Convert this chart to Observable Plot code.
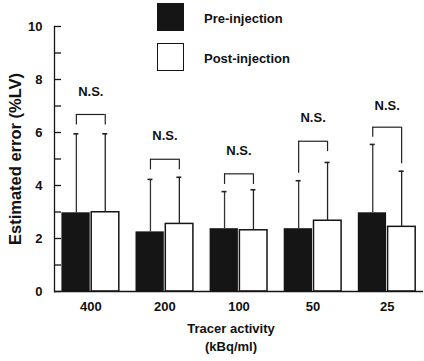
<!DOCTYPE html>
<html>
<head>
<meta charset="utf-8">
<script src="https://cdn.jsdelivr.net/npm/d3@7"></script>
<script src="https://cdn.jsdelivr.net/npm/@observablehq/plot@0.6"></script>
<style>
  html, body { margin: 0; padding: 0; background: #fff; }
  #wrap { position: relative; width: 424px; height: 361px; font-family: "Liberation Sans", Arial, sans-serif; font-weight: bold; }
  #wrap svg { display: block; }
  .sw { position: absolute; box-sizing: border-box; }
  .lt { position: absolute; font-size: 13px; line-height: 15px; color: #111; }
</style>
</head>
<body>
<div id="wrap"></div>
<script>
// ---- data ----
const categories = ["400", "200", "100", "50", "25"];
const seriesNames = ["Pre-injection", "Post-injection"];
const preMean  = [2.97, 2.25, 2.37, 2.37, 2.97];
const postMean = [2.99, 2.55, 2.31, 2.67, 2.44];
const preUpper  = [5.95, 4.23, 3.77, 4.18, 5.55];
const postUpper = [5.95, 4.31, 3.84, 4.87, 4.54];
const bracketTop = [6.68, 4.99, 4.44, 5.67, 6.20];
const bracketPreEnd  = [6.28, 4.59, 4.04, 4.46, 5.82];
const bracketPostEnd = [6.28, 4.59, 4.04, 5.28, 4.82];
const sigLabelY = [7.52, 5.89, 5.29, 6.55, 7.02];
const sigLabels = ["N.S.", "N.S.", "N.S.", "N.S.", "N.S."];
const yTickLabels = [0, 2, 4, 6, 8, 10];
const yTicksAll = [0, 1, 2, 3, 4, 5, 6, 7, 8, 9, 10];
const xLabel = "Tracer activity\n(kBq/ml)";
const yLabel = "Estimated error (%LV)";

// ---- layout ----
const W = 424, H = 361;
const mL = 54, mR = 1, mT = 26, mB = 70;
const padInner = 0.22, padOuter = 0.1;
const band = d3.scaleBand().domain(categories).range([mL, W - mR]).paddingInner(padInner).paddingOuter(padOuter);
const bw = band.bandwidth();
const q = bw / 4;
const capInset = (bw - 5) / 2;
const frameW = W - mL - mR;

const rows = categories.map((c, i) => ({
  cat: c, pre: preMean[i], post: postMean[i],
  preU: preUpper[i], postU: postUpper[i],
  top: bracketTop[i], preEnd: bracketPreEnd[i], postEnd: bracketPostEnd[i],
  labY: sigLabelY[i], lab: sigLabels[i]
}));

const font = "Liberation Sans, Arial, sans-serif";

const chart = Plot.plot({
  width: W, height: H,
  marginLeft: mL, marginRight: mR, marginTop: mT, marginBottom: mB,
  style: { fontFamily: font, fontWeight: "bold", fontSize: "13px", color: "#111", background: "white" },
  x: { domain: categories, paddingInner: padInner, paddingOuter: padOuter, round: false, label: null },
  y: { domain: [0, 10], label: null },
  marks: [
    // bars
    Plot.rectY(rows, { x: "cat", y1: 0, y2: "pre", fill: "#151515", insetRight: bw / 2 + 0.6 }),
    Plot.rectY(rows, { x: "cat", y1: 0, y2: "post", fill: "white", stroke: "#151515", strokeWidth: 1.5, insetLeft: bw / 2 + 0.9, insetRight: 0.4 }),
    // error whiskers
    Plot.ruleX(rows, { x: "cat", y1: "pre", y2: "preU", dx: -q, stroke: "#333", strokeWidth: 1.3 }),
    Plot.ruleX(rows, { x: "cat", y1: "post", y2: "postU", dx: q, stroke: "#222", strokeWidth: 1.3 }),
    Plot.tickY(rows, { x: "cat", y: "preU", dx: -q, insetLeft: capInset, insetRight: capInset, stroke: "#222", strokeWidth: 1.6 }),
    Plot.tickY(rows, { x: "cat", y: "postU", dx: q, insetLeft: capInset, insetRight: capInset, stroke: "#222", strokeWidth: 1.6 }),
    // significance brackets
    Plot.tickY(rows, { x: "cat", y: "top", insetLeft: q, insetRight: q, stroke: "#222", strokeWidth: 1.2 }),
    Plot.ruleX(rows, { x: "cat", y1: "preEnd", y2: "top", dx: -q, stroke: "#222", strokeWidth: 1.2 }),
    Plot.ruleX(rows, { x: "cat", y1: "postEnd", y2: "top", dx: q, stroke: "#222", strokeWidth: 1.2 }),
    Plot.text(rows, { x: "cat", y: "labY", text: "lab", fontSize: 13, fontWeight: "bold", fill: "#111" }),
    // axes
    Plot.ruleY([0], { stroke: "#151515", strokeWidth: 1.3 }),
    Plot.frame({ anchor: "left", stroke: "#151515", strokeWidth: 1.3 }),
    Plot.tickY(yTicksAll, { y: d => d, insetRight: frameW - 7, stroke: "#151515", strokeWidth: 1.3 }),
    Plot.axisY({ ticks: yTickLabels, tickSize: 0, tickPadding: 12, tickFormat: d => String(d), label: null, fontSize: 13 }),
    Plot.axisX({ tickSize: 0, tickPadding: 10, label: null, fontSize: 13 }),
    Plot.text([yLabel], { frameAnchor: "left", text: d => d, rotate: -90, dx: -39, textAnchor: "middle", lineAnchor: "middle", fontSize: 16.5, fontWeight: "bold", fill: "#111" }),
    Plot.text([xLabel], { frameAnchor: "bottom", text: d => d, dx: -8, dy: 45, textAnchor: "middle", lineAnchor: "middle", lineHeight: 1.4, fontSize: 13, fontWeight: "bold", fill: "#111" })
  ]
});

const wrap = document.getElementById("wrap");
wrap.appendChild(chart);

// legend (overlaid at top, as in the reference)
const legendFills = ["#151515", "white"];
const legendTops = [3, 43];
seriesNames.forEach((name, i) => {
  const sw = document.createElement("div");
  sw.className = "sw";
  sw.style.left = "157px";
  sw.style.top = legendTops[i] + "px";
  sw.style.width = "27px";
  sw.style.height = "28px";
  sw.style.background = legendFills[i];
  sw.style.border = "1.5px solid #151515";
  wrap.appendChild(sw);
  const t = document.createElement("div");
  t.className = "lt";
  t.textContent = name;
  t.style.left = "204px";
  t.style.top = (legendTops[i] + 8) + "px";
  wrap.appendChild(t);
});
</script>
</body>
</html>
